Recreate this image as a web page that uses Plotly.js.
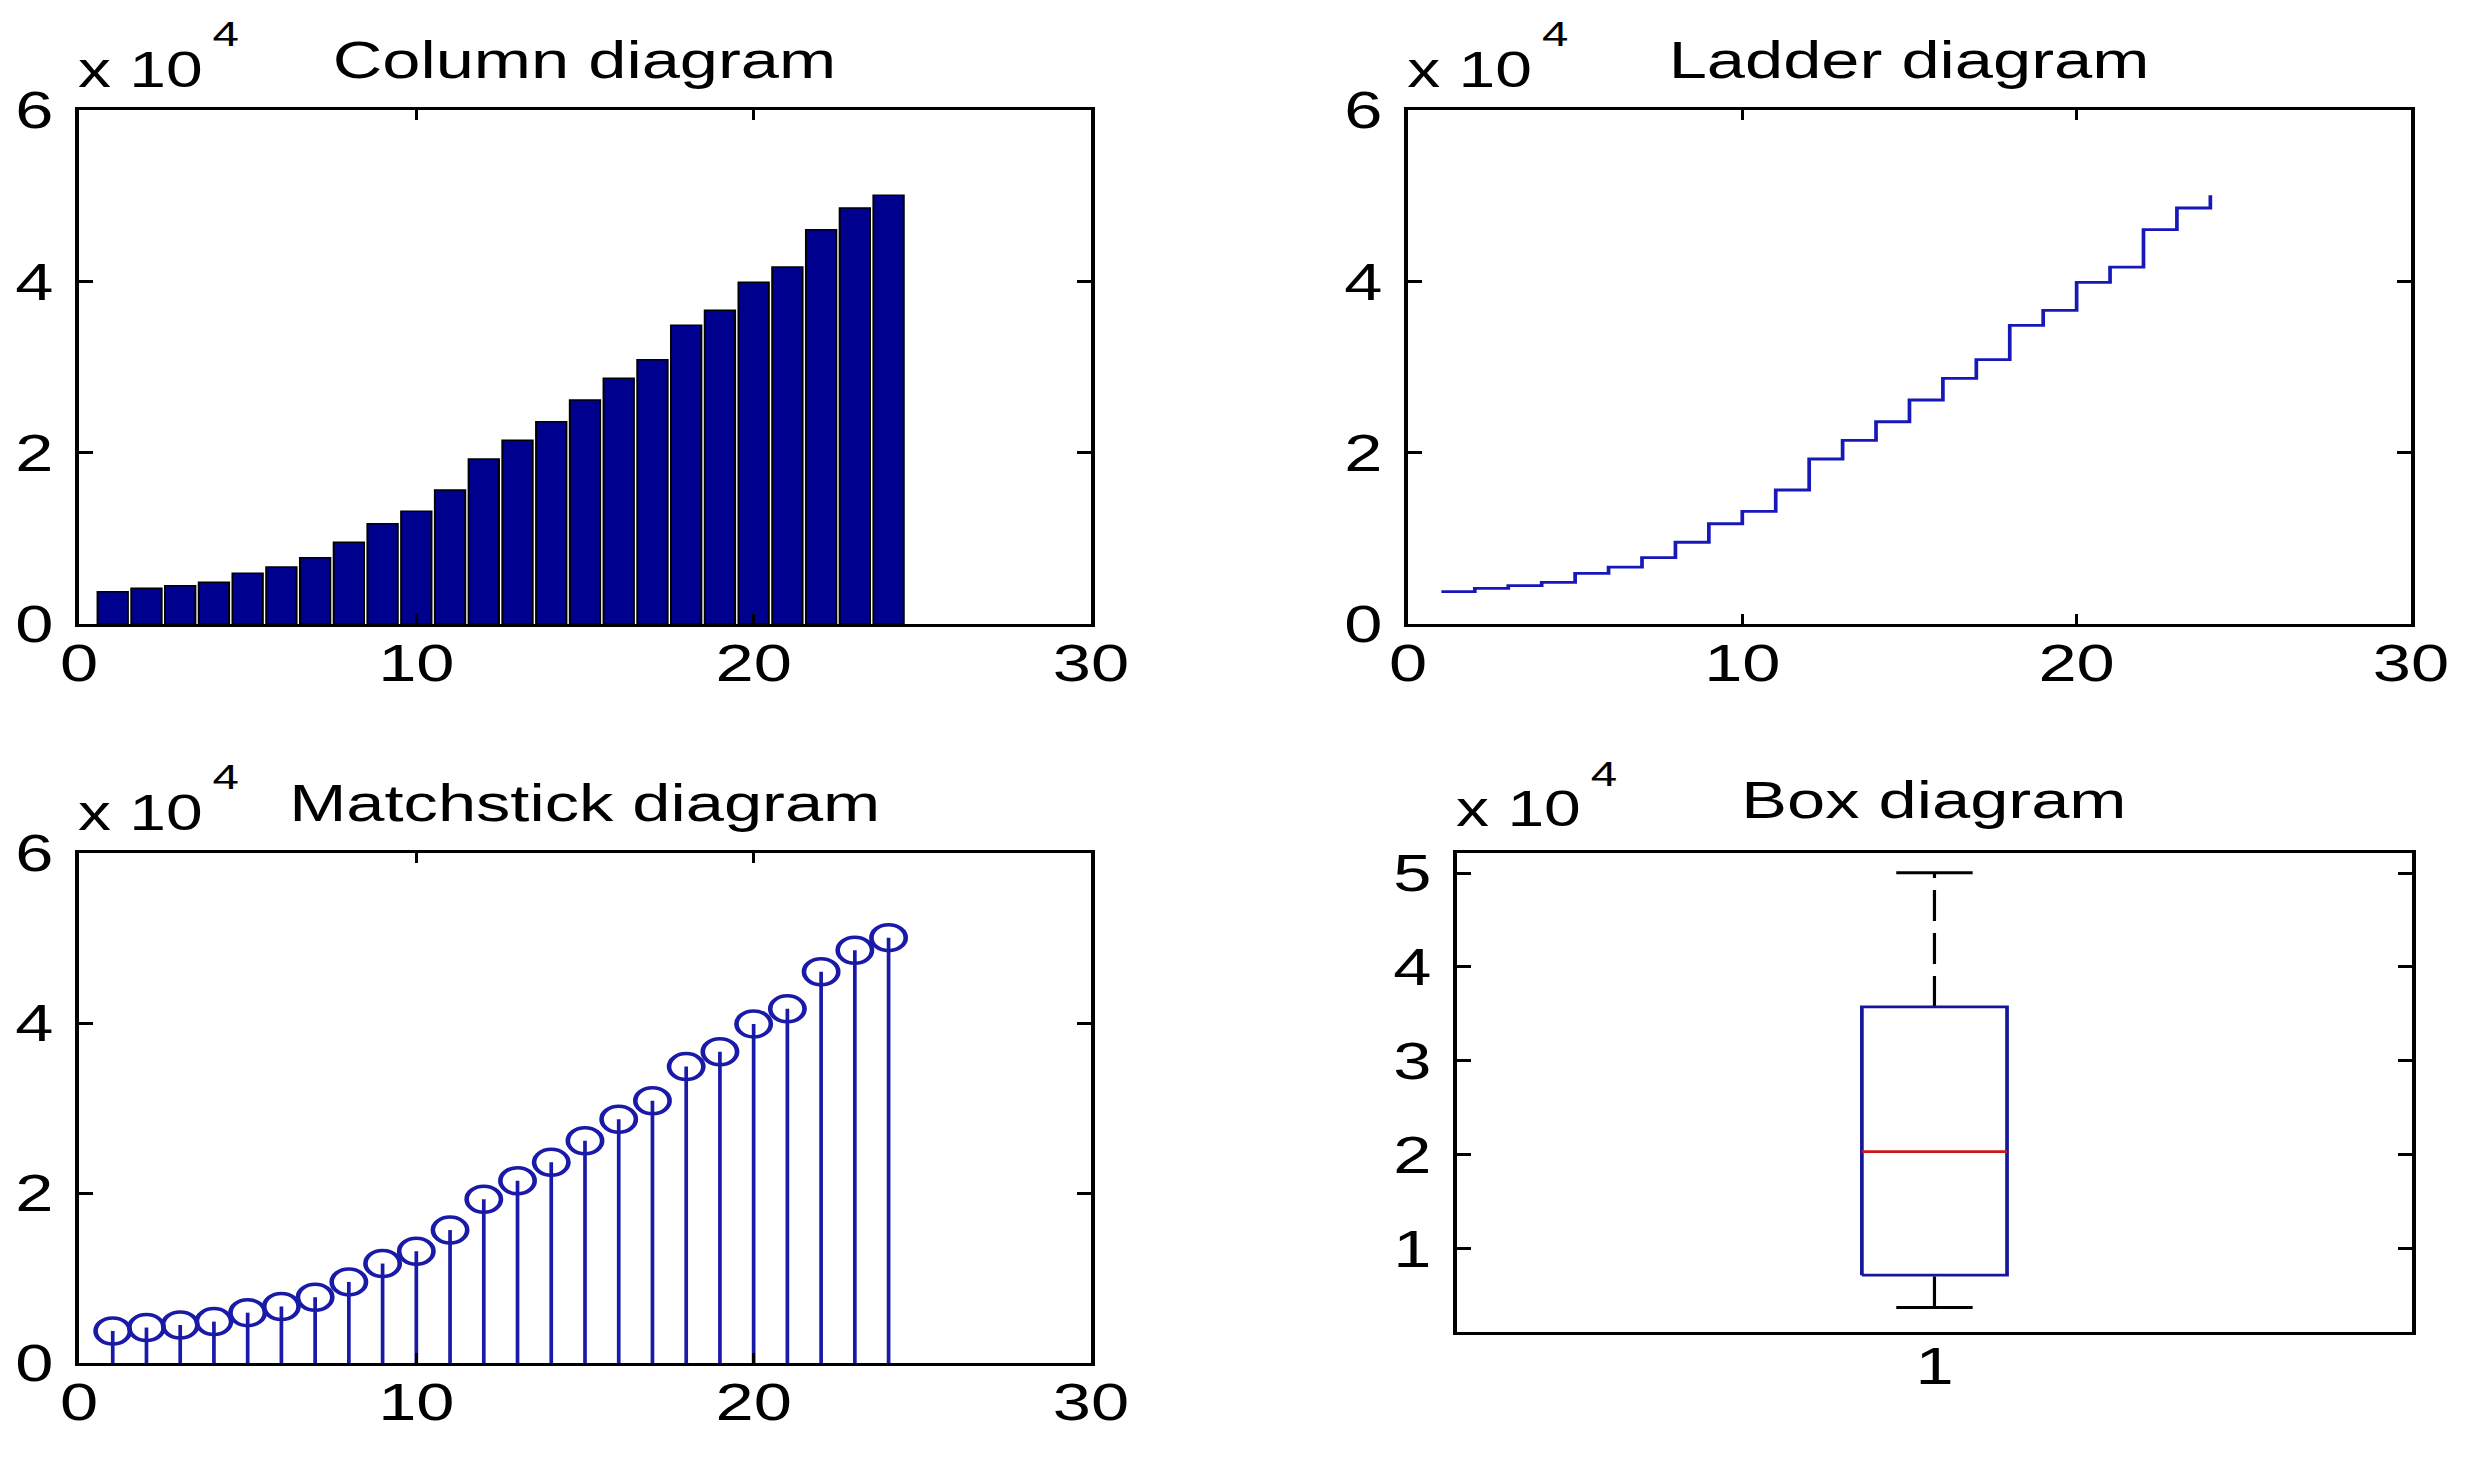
<!DOCTYPE html>
<html>
<head>
<meta charset="utf-8">
<script src="https://cdn.plot.ly/plotly-3.0.1.min.js"></script>
<style>
  html, body { margin: 0; padding: 0; background: #ffffff; overflow: hidden; }
  #chart { width: 1868px; height: 1466px; transform: scaleX(1.3201); transform-origin: 0 0; }
</style>
</head>
<body>
<div id="chart"></div>
<script>
// ---- data ----
const indices = [1,2,3,4,5,6,7,8,9,10,11,12,13,14,15,16,17,18,19,20,21,22,23,24];
const values = [3770, 4170, 4470, 4870, 5920, 6650, 7740, 9540, 11700, 13150, 15640, 19260,
                21440, 23610, 26150, 28680, 30850, 34870, 36620, 39890, 41670, 46030, 48560, 50040];
const xTickVals = [0, 10, 20, 30];
const xTickText = ['0', '10', '20', '30'];
const yTickVals = [0, 20000, 40000, 60000];
const yTickText = ['0', '2', '4', '6'];
const boxTickVals = [10000, 20000, 30000, 40000, 50000];
const boxTickText = ['1', '2', '3', '4', '5'];
const boxCategoryVals = [1];
const boxCategoryText = ['1'];
const titles = ['Column diagram', 'Ladder diagram', 'Matchstick diagram', 'Box diagram'];
const exponentBase = 'x 10';
const exponentPower = '4';

// ---- geometry ----
const W = 2466, H = 1466, S = 1.3201;
const FONT = 'Liberation Sans, Arial, Helvetica, sans-serif';
function dx(a, b) { return [a / W, b / W]; }
function dy(top, bottom) { return [1 - bottom / H, 1 - top / H]; }
const dom = {
  tl: { x: dx(79, 1091), y: dy(110, 624) },
  tr: { x: dx(1408, 2411), y: dy(110, 624) },
  bl: { x: dx(79, 1091), y: dy(853, 1363) },
  br: { x: dx(1457, 2412), y: dy(853, 1332) }
};

// ---- derived series ----
const stemX = [], stemY = [];
indices.forEach((x, i) => { stemX.push(x, x, null); stemY.push(0, values[i], null); });

function med(a) { const n = a.length; return n % 2 ? a[(n - 1) / 2] : (a[n / 2 - 1] + a[n / 2]) / 2; }
const sorted = values.slice().sort((a, b) => a - b);
const n = sorted.length;
const median = med(sorted);
const lowerHalf = sorted.slice(0, Math.floor(n / 2));
const upperHalf = sorted.slice(Math.ceil(n / 2));
const q1 = med(lowerHalf), q3 = med(upperHalf);
const iqr = q3 - q1;
const whiskLo = sorted.filter(v => v >= q1 - 1.5 * iqr)[0];
const whiskHi = sorted.filter(v => v <= q3 + 1.5 * iqr).slice(-1)[0];
const bw = 0.076, cw = 0.04, c = boxCategoryVals[0];

const blueBar = '#00008F';
const lineBlue = '#1818b8';
const stemBlue = '#1a1aa8';
const boxBlue = '#16169c';

const traces = [
  { type: 'bar', x: indices, y: values, width: 0.9, xaxis: 'x', yaxis: 'y',
    marker: { color: blueBar, line: { color: '#000000', width: 1.5 } } },
  { type: 'scatter', mode: 'lines', x: indices, y: values, xaxis: 'x2', yaxis: 'y2',
    line: { shape: 'hv', color: lineBlue, width: 2.8 } },
  { type: 'scatter', mode: 'lines', x: stemX, y: stemY, xaxis: 'x3', yaxis: 'y3',
    line: { color: stemBlue, width: 2.8 }, connectgaps: false },
  { type: 'scatter', mode: 'markers', x: indices, y: values, xaxis: 'x3', yaxis: 'y3',
    marker: { symbol: 'circle-open', size: 26, color: stemBlue, line: { color: stemBlue, width: 3.5 } } },
  // box diagram
  { type: 'scatter', mode: 'lines', x: [c, c], y: [q3, whiskHi], xaxis: 'x4', yaxis: 'y4',
    line: { color: '#000000', width: 2.4, dash: '31px,12px' } },
  { type: 'scatter', mode: 'lines', x: [c, c], y: [whiskLo, q1], xaxis: 'x4', yaxis: 'y4',
    line: { color: '#000000', width: 2.4, dash: '31px,12px' } },
  { type: 'scatter', mode: 'lines', x: [c - cw, c + cw], y: [whiskHi, whiskHi], xaxis: 'x4', yaxis: 'y4',
    line: { color: '#000000', width: 3 } },
  { type: 'scatter', mode: 'lines', x: [c - cw, c + cw], y: [whiskLo, whiskLo], xaxis: 'x4', yaxis: 'y4',
    line: { color: '#000000', width: 3 } },
  { type: 'scatter', mode: 'lines', x: [c - bw, c + bw, c + bw, c - bw, c - bw], y: [q1, q1, q3, q3, q1],
    xaxis: 'x4', yaxis: 'y4', line: { color: boxBlue, width: 2.8 } },
  { type: 'scatter', mode: 'lines', x: [c - bw, c + bw], y: [median, median], xaxis: 'x4', yaxis: 'y4',
    line: { color: '#cc1a1a', width: 2.6 } }
];

const tickFont = { family: FONT, size: 52, color: '#000000' };
function xAx(d, anchor, extra) {
  return Object.assign({
    domain: d, anchor: anchor, range: [0, 30], tickmode: 'array', tickvals: xTickVals, ticktext: xTickText,
    showline: true, linecolor: '#000000', linewidth: 3, mirror: 'ticks', ticks: 'inside',
    ticklen: 10, tickwidth: 2.3, tickcolor: '#000000', showgrid: false, zeroline: false,
    tickfont: tickFont, ticklabelstandoff: -8, fixedrange: true
  }, extra || {});
}
function yAx(d, anchor, extra) {
  return Object.assign({
    domain: d, anchor: anchor, range: [0, 60000], tickmode: 'array', tickvals: yTickVals, ticktext: yTickText,
    showline: true, linecolor: '#000000', linewidth: 3, mirror: 'ticks', ticks: 'inside',
    ticklen: 10.6, tickwidth: 3, tickcolor: '#000000', showgrid: false, zeroline: false,
    tickfont: tickFont, ticklabelstandoff: 6, fixedrange: true
  }, extra || {});
}

function titleAnn(d, text, baselineAbove) {
  return { xref: 'paper', yref: 'paper', x: (d.x[0] + d.x[1]) / 2, y: d.y[1], xanchor: 'center', yanchor: 'bottom',
    yshift: baselineAbove - 0.212 * 52 - 2, text: text, showarrow: false,
    font: { family: FONT, size: 52, color: '#000000' } };
}
function expAnns(d, baseAbove, powAbove) {
  return [
    { xref: 'paper', yref: 'paper', x: d.x[0], y: d.y[1], xanchor: 'left', yanchor: 'bottom',
      xshift: -3, yshift: baseAbove - 0.212 * 50 - 2, text: exponentBase, showarrow: false,
      font: { family: FONT, size: 50, color: '#000000' } },
    { xref: 'paper', yref: 'paper', x: d.x[0], y: d.y[1], xanchor: 'left', yanchor: 'bottom',
      xshift: 132 / S - 1, yshift: powAbove - 0.212 * 36 - 2, text: exponentPower, showarrow: false,
      font: { family: FONT, size: 36, color: '#000000' } }
  ];
}

const annotations = [
  titleAnn(dom.tl, titles[0], 32), titleAnn(dom.tr, titles[1], 32),
  titleAnn(dom.bl, titles[2], 32), titleAnn(dom.br, titles[3], 35)
].concat(expAnns(dom.tl, 23, 64), expAnns(dom.tr, 23, 64), expAnns(dom.bl, 23, 64), expAnns(dom.br, 27, 67));

const layout = {
  width: 1868, height: H, margin: { l: 0, r: 0, t: 0, b: 0, pad: 0 },
  paper_bgcolor: '#ffffff', plot_bgcolor: '#ffffff', showlegend: false,
  xaxis: xAx(dom.tl.x, 'y'), yaxis: yAx(dom.tl.y, 'x'),
  xaxis2: xAx(dom.tr.x, 'y2'), yaxis2: yAx(dom.tr.y, 'x2'),
  xaxis3: xAx(dom.bl.x, 'y3'), yaxis3: yAx(dom.bl.y, 'x3'),
  xaxis4: xAx(dom.br.x, 'y4', { range: [0.5, 1.5], tickvals: boxCategoryVals, ticktext: boxCategoryText,
    ticks: '', mirror: true, ticklabelstandoff: -13 }),
  yaxis4: yAx(dom.br.y, 'x4', { range: [1150, 52130], tickvals: boxTickVals, ticktext: boxTickText }),
  annotations: annotations
};

Plotly.newPlot('chart', traces, layout, { staticPlot: true, displayModeBar: false });
</script>
</body>
</html>
